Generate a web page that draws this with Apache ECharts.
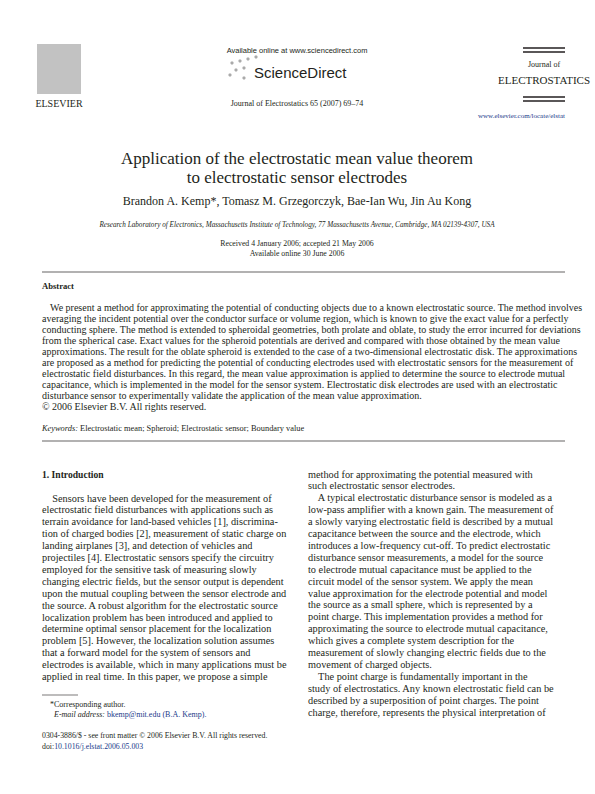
<!DOCTYPE html>
<html><head><meta charset="utf-8">
<script src="https://cdn.jsdelivr.net/npm/echarts@6/dist/echarts.min.js"></script>
<style>html,body{margin:0;padding:0;background:#fff}#page{width:595px;height:794px}</style>
</head><body><div id="page"></div>
<script>
const serif = 'Liberation Serif'
const sans = 'Liberation Sans'

const titleLines = ['Application of the electrostatic mean value theorem', 'to electrostatic sensor electrodes']
const authors = 'Brandon A. Kemp*, Tomasz M. Grzegorczyk, Bae-Ian Wu, Jin Au Kong'
const affiliation = 'Research Laboratory of Electronics, Massachusetts Institute of Technology, 77 Massachusetts Avenue, Cambridge, MA 02139-4307, USA'
const dates = ['Received 4 January 2006; accepted 21 May 2006', 'Available online 30 June 2006']

const abstractLines = [
  'We present a method for approximating the potential of conducting objects due to a known electrostatic source. The method involves',
  'averaging the incident potential over the conductor surface or volume region, which is known to give the exact value for a perfectly',
  'conducting sphere. The method is extended to spheroidal geometries, both prolate and oblate, to study the error incurred for deviations',
  'from the spherical case. Exact values for the spheroid potentials are derived and compared with those obtained by the mean value',
  'approximations. The result for the oblate spheroid is extended to the case of a two-dimensional electrostatic disk. The approximations',
  'are proposed as a method for predicting the potential of conducting electrodes used with electrostatic sensors for the measurement of',
  'electrostatic field disturbances. In this regard, the mean value approximation is applied to determine the source to electrode mutual',
  'capacitance, which is implemented in the model for the sensor system. Electrostatic disk electrodes are used with an electrostatic',
  'disturbance sensor to experimentally validate the application of the mean value approximation.',
  '\u00a9 2006 Elsevier B.V. All rights reserved.'
]

const leftLines = [
  '    Sensors have been developed for the measurement of',
  'electrostatic field disturbances with applications such as',
  'terrain avoidance for land-based vehicles [1], discrimina-',
  'tion of charged bodies [2], measurement of static charge on',
  'landing airplanes [3], and detection of vehicles and',
  'projectiles [4]. Electrostatic sensors specify the circuitry',
  'employed for the sensitive task of measuring slowly',
  'changing electric fields, but the sensor output is dependent',
  'upon the mutual coupling between the sensor electrode and',
  'the source. A robust algorithm for the electrostatic source',
  'localization problem has been introduced and applied to',
  'determine optimal sensor placement for the localization',
  'problem [5]. However, the localization solution assumes',
  'that a forward model for the system of sensors and',
  'electrodes is available, which in many applications must be',
  'applied in real time. In this paper, we propose a simple'
]

const rightLines = [
  'method for approximating the potential measured with',
  'such electrostatic sensor electrodes.',
  '    A typical electrostatic disturbance sensor is modeled as a',
  'low-pass amplifier with a known gain. The measurement of',
  'a slowly varying electrostatic field is described by a mutual',
  'capacitance between the source and the electrode, which',
  'introduces a low-frequency cut-off. To predict electrostatic',
  'disturbance sensor measurements, a model for the source',
  'to electrode mutual capacitance must be applied to the',
  'circuit model of the sensor system. We apply the mean',
  'value approximation for the electrode potential and model',
  'the source as a small sphere, which is represented by a',
  'point charge. This implementation provides a method for',
  'approximating the source to electrode mutual capacitance,',
  'which gives a complete system description for the',
  'measurement of slowly changing electric fields due to the',
  'movement of charged objects.',
  '    The point charge is fundamentally important in the',
  'study of electrostatics. Any known electrostatic field can be',
  'described by a superposition of point charges. The point',
  'charge, therefore, represents the physical interpretation of'
]

const footLines = ['0304-3886/$ - see front matter \u00a9 2006 Elsevier B.V. All rights reserved.', 'doi:10.1016/j.elstat.2006.05.003']

function txt(x, y, text, style) {
  return { type: 'text', x: x, y: y, silent: true,
    style: Object.assign({ text: text, fill: '#231f20', font: '10.3px ' + serif, textVerticalAlign: 'middle' }, style || {}) }
}
function rule(x1, y, x2, w) {
  return { type: 'line', silent: true, shape: { x1: x1, y1: y, x2: x2, y2: y }, style: { stroke: '#231f20', lineWidth: w || 0.7 } }
}

var els = []
// header
els.push({ type: 'rect', shape: { x: 37, y: 44, width: 44, height: 50 }, style: { fill: '#9a9a9a', opacity: 0.6 } })
els.push(txt(59, 103, 'ELSEVIER', { font: '10px ' + serif, textAlign: 'center' }))
els.push(txt(297, 50, 'Available online at www.sciencedirect.com', { font: '7.5px ' + sans, textAlign: 'center' }))
els.push(txt(254, 72, 'ScienceDirect', { font: '15px ' + sans }))
var dots = [[232,63],[240,61],[248,59],[256,57],[236,70],[244,68],[230,75],[244,78]]
dots.forEach(function (d) { els.push({ type: 'circle', shape: { cx: d[0], cy: d[1], r: 1.6 }, style: { fill: '#aaa' } }) })
els.push(txt(297, 103, 'Journal of Electrostatics 65 (2007) 69\u201374', { font: '8px ' + serif, textAlign: 'center' }))
els.push(rule(523, 48, 565, 1.5), rule(523, 52, 565, 1.5), rule(523, 97, 565, 1.5), rule(523, 101, 565, 1.5))
els.push(txt(544, 64, 'Journal of', { font: '8px ' + serif, textAlign: 'center' }))
els.push(txt(544, 80, 'ELECTROSTATICS', { font: '11px ' + serif, textAlign: 'center' }))
els.push(txt(565, 116, 'www.elsevier.com/locate/elstat', { font: '7px ' + serif, textAlign: 'right', fill: '#1a3a8a' }))

// title block
titleLines.forEach(function (t, i) { els.push(txt(297, 158 + i * 19, t, { font: '17px ' + serif, textAlign: 'center' })) })
els.push(txt(297, 201, authors, { font: '12px ' + serif, textAlign: 'center' }))
els.push(txt(297, 225, affiliation, { font: 'italic 7.2px ' + serif, textAlign: 'center' }))
dates.forEach(function (t, i) { els.push(txt(297, 243 + i * 10.5, t, { font: '7.8px ' + serif, textAlign: 'center' })) })

// abstract
els.push(rule(42, 272, 565))
els.push(txt(42, 286, 'Abstract', { font: 'bold 8.6px ' + serif }))
abstractLines.forEach(function (t, i) {
  els.push(txt(i === 0 ? 50 : 42, 307 + i * 11, t, { font: '10px ' + serif }))
})
els.push({ type: 'text', x: 42, y: 428, silent: true, style: { text: '{i|Keywords:} Electrostatic mean; Spheroid; Electrostatic sensor; Boundary value', fill: '#231f20', font: '8.4px ' + serif, textVerticalAlign: 'middle', rich: { i: { font: 'italic 8.4px ' + serif } } } })
els.push(rule(42, 441, 565))

// body
els.push(txt(42, 474, '1. Introduction', { font: 'bold 9.6px ' + serif }))
leftLines.forEach(function (t, i) { els.push(txt(42, 498 + i * 11.9, t)) })
rightLines.forEach(function (t, i) { els.push(txt(308, 474 + i * 11.9, t)) })

// footnote + footer
els.push(rule(42, 695, 78, 0.6))
els.push(txt(50, 704, '*Corresponding author.', { font: '8px ' + serif }))
els.push({ type: 'text', x: 54, y: 714, silent: true, style: { text: '{i|E-mail address:} {b|bkemp@mit.edu (B.A. Kemp).}', fill: '#231f20', font: '8px ' + serif, textVerticalAlign: 'middle', rich: { i: { font: 'italic 8px ' + serif }, b: { font: '8px ' + serif, fill: '#1a3a8a' } } } })
els.push(txt(42, 735, footLines[0], { font: '7.8px ' + serif }))
els.push({ type: 'text', x: 42, y: 746, silent: true, style: { text: 'doi:{b|10.1016/j.elstat.2006.05.003}', fill: '#231f20', font: '7.8px ' + serif, textVerticalAlign: 'middle', rich: { b: { font: '7.8px ' + serif, fill: '#1a3a8a' } } } })

var chart = echarts.init(document.getElementById('page'), null, { renderer: 'svg' })
chart.setOption({ animation: false, graphic: { elements: els } })
</script></body></html>
